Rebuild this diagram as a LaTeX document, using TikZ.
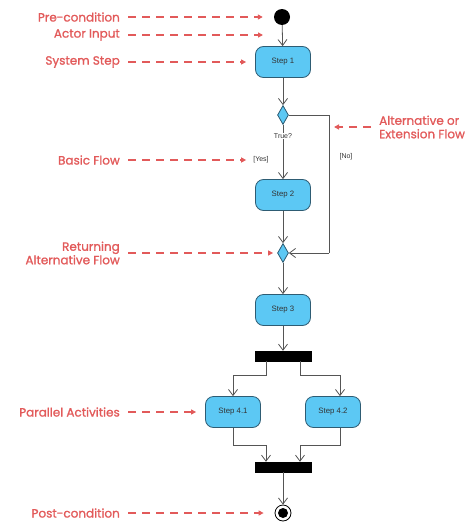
\documentclass[tikz,border=0pt]{standalone}
\usepackage{fontspec}
\setmainfont{Poppins}
\newfontfamily\notefont{Poppins}[FakeBold=1.2]
\newfontfamily\boxfont{Liberation Sans}
\usetikzlibrary{shapes.geometric,arrows.meta}
\definecolor{notered}{HTML}{E25A5A}
\definecolor{stepfill}{HTML}{5CC8F4}
\definecolor{stepline}{HTML}{2E5C73}
\definecolor{flowgray}{HTML}{555555}
\tikzset{
  stepbox/.style={draw=stepline, fill=stepfill, rounded corners=8pt, line width=0.8pt,
    minimum width=55pt, minimum height=31pt, inner sep=0pt, font=\boxfont\fontsize{7.8}{9}\selectfont, text=black!80},
  decision/.style={draw=stepline, fill=stepfill, diamond, line width=0.8pt, inner sep=0pt,
    minimum width=11pt, minimum height=19pt},
  bar/.style={fill=black, draw=black, minimum width=56pt, minimum height=10pt, inner sep=0pt},
  flow/.style={draw=flowgray, line width=0.8pt, -{Straight Barb[length=6pt,width=9pt]}},
  plainflow/.style={draw=flowgray, line width=0.8pt},
  note/.style={text=notered, font=\notefont\fontsize{12}{13.5}\selectfont, inner sep=0pt},
  notearrow/.style={draw=notered, line width=1.4pt, dash pattern=on 8pt off 6pt,
    -{Triangle[length=5pt,width=5pt]}},
  guard/.style={font=\boxfont\fontsize{7}{8}\selectfont, text=black!80, inner sep=1pt}
}
\begin{document}
\begin{tikzpicture}[x=1pt,y=-1pt]
\useasboundingbox (0,0) rectangle (474,530);
% flow nodes
\node[circle, fill=black, minimum size=16pt, inner sep=0pt] (start) at (282,17) {};
\node[stepbox] (s1) at (283,62) {Step 1};
\node[decision] (d1) at (283,115) {};
\node[stepbox] (s2) at (283,195) {Step 2};
\node[decision] (d2) at (283,253) {};
\node[stepbox] (s3) at (283,310) {Step 3};
\node[bar] (fork) at (283,356) {};
\node[stepbox] (s41) at (233,412) {Step 4.1};
\node[stepbox] (s42) at (333,412) {Step 4.2};
\node[bar] (join) at (283,467) {};
\node[circle, draw=black, line width=0.8pt, minimum size=16pt, inner sep=0pt] (end) at (283,513) {};
\node[circle, fill=black, minimum size=10pt, inner sep=0pt] at (end) {};
% helper coordinates
\coordinate (altc) at (329,115);
\coordinate (altd) at (329,253);
\coordinate (fl) at (266,375);
\coordinate (fr) at (300,375);
\coordinate (jl) at (266,445);
\coordinate (jr) at (300,445);
\coordinate (ai) at (282,35);
% flows
\draw[flow] (start) -- (s1);
\draw[flow] (s1) -- (d1);
\draw[flow] (d1) -- (s2);
\node[guard, fill=white] (tq) at (283,136) {True?};
\node[guard] (yes) at (261,160) {[Yes]};
\node[guard] (no) at (346,157) {[No]};
\draw[plainflow] (d1.east) -- (altc) -- (altd);
\draw[flow] (altd) -- (d2.east);
\draw[flow] (s2) -- (d2);
\draw[flow] (d2) -- (s3);
\draw[flow] (s3) -- (fork);
\draw[flow] (fork.south -| fl) -- (fl) -| (s41.north);
\draw[flow] (fork.south -| fr) -- (fr) -| ([xshift=7pt]s42.north);
\draw[flow] (s41.south) |- (jl) -- (join.north -| jl);
\draw[flow] ([xshift=7pt]s42.south) |- (jr) -- (join.north -| jr);
\draw[flow] (join) -- (end);
% notes
\node[note, anchor=east] (n1) at (120,17) {Pre-condition};
\node[note, anchor=east] (n2) at (120,35) {Actor Input};
\node[note, anchor=east] (n3) at (120,62) {System Step};
\node[note, anchor=west, align=left] (n4) at (379,127) {Alternative or\\Extension Flow};
\node[note, anchor=east] (n5) at (120,160) {Basic Flow};
\node[note, anchor=east, align=right] (n6) at (120,253) {Returning\\Alternative Flow};
\node[note, anchor=east] (n7) at (120,412) {Parallel Activities};
\node[note, anchor=east] (n8) at (120,513) {Post-condition};
\draw[notearrow] ([xshift=8pt]n1.east) -- ([xshift=-11pt]start.west);
\draw[notearrow] ([xshift=8pt]n2.east) -- ([xshift=-19pt]ai);
\draw[notearrow] ([xshift=8pt]n3.east) -- ([xshift=-9pt]s1.west);
\draw[notearrow] ([xshift=-8pt]n4.west) -- ([xshift=5pt]altc |- n4.west);
\draw[notearrow] ([xshift=8pt]n5.east) -- ([xshift=-6pt]yes.west);
\draw[notearrow] ([xshift=8pt]n6.east) -- ([xshift=-4pt]d2.west);
\draw[notearrow] ([xshift=8pt]n7.east) -- ([xshift=-9pt]s41.west);
\draw[notearrow] ([xshift=8pt]n8.east) -- ([xshift=-11pt]end.west);
\end{tikzpicture}
\end{document}
